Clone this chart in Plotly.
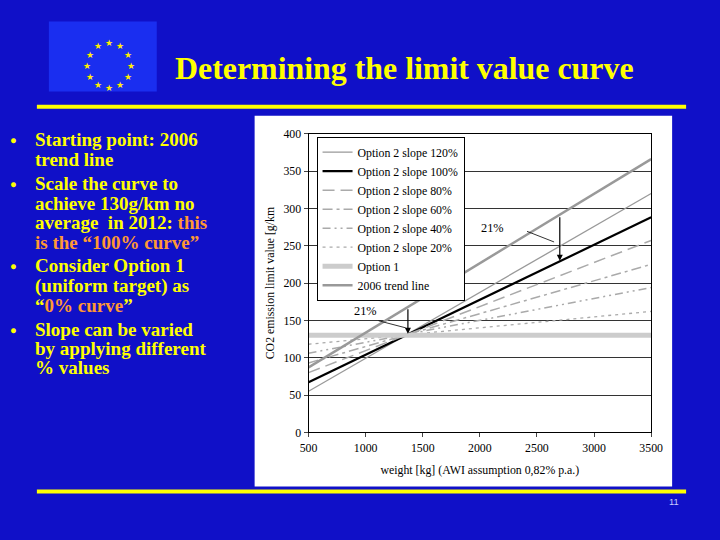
import math
import plotly.graph_objects as go

weights = [500, 3500]
trend_2006 = [87, 366]
slope_120 = [55, 320]
slope_100 = [67, 288]
slope_80 = [80, 257]
slope_60 = [93, 225]
slope_40 = [106, 194]
slope_20 = [118, 162]
option_1 = [130, 130]

W, H = 720, 540
S = 0.972  # compensate for the viewer's scaling
def px(x): return (360 + (x - 360) / S) / W
def py(y): return 1 - (270 + (y - 270) / S) / H
def fs(v): return v / S

fig = go.Figure()
series = [
    ("Option 2 slope 120%", slope_120, dict(color="#999999", width=1.3)),
    ("Option 2 slope 100%", slope_100, dict(color="black", width=2.2)),
    ("Option 2 slope 80%", slope_80, dict(color="#aaaaaa", width=1.5, dash="12px,6px")),
    ("Option 2 slope 60%", slope_60, dict(color="#aaaaaa", width=1.5, dash="10px,4px,3px,4px")),
    ("Option 2 slope 40%", slope_40, dict(color="#aaaaaa", width=1.5, dash="8px,4px,2px,4px,2px,4px")),
    ("Option 2 slope 20%", slope_20, dict(color="#aaaaaa", width=1.3, dash="3px,4px")),
    ("Option 1", option_1, dict(color="#cccccc", width=5)),
    ("2006 trend line", trend_2006, dict(color="#999999", width=2.5)),
]
for name, ys, ln in series:
    fig.add_trace(go.Scatter(x=weights, y=ys, name=name, mode="lines", line=ln))

serif = "Liberation Serif, Times New Roman, serif"
ann = []
ann.append(dict(x=1370, y=132, ax=1370, ay=167, xref="x", yref="y", axref="x", ayref="y",
                showarrow=True, arrowhead=2, arrowwidth=1.2, arrowcolor="black", text=""))
ann.append(dict(x=2700, y=230, ax=2700, ay=290, xref="x", yref="y", axref="x", ayref="y",
                showarrow=True, arrowhead=2, arrowwidth=1.2, arrowcolor="black", text=""))
ann.append(dict(x=1350, y=140, ax=1100, ay=150, xref="x", yref="y", axref="x", ayref="y",
                showarrow=True, arrowhead=0, arrowwidth=0.8, arrowcolor="black", text=""))
ann.append(dict(x=2650, y=255, ax=2400, ay=270, xref="x", yref="y", axref="x", ayref="y",
                showarrow=True, arrowhead=0, arrowwidth=0.8, arrowcolor="black", text=""))
ann.append(dict(x=1000, y=162, xref="x", yref="y", text="21%", showarrow=False,
                font=dict(family=serif, size=fs(12), color="black")))
ann.append(dict(x=2110, y=274, xref="x", yref="y", text="21%", showarrow=False,
                font=dict(family=serif, size=fs(12), color="black")))

ann.append(dict(x=px(406), y=py(69), xref="paper", yref="paper", text="<b>Determining the limit value curve</b>",
                showarrow=False, yanchor="middle", font=dict(family=serif, size=fs(31), color="#ffff00")))
for i in range(12):
    a = 2 * math.pi * i / 12
    ann.append(dict(x=px(104 + 22 * math.sin(a)), y=py(57 - 22 * math.cos(a)), xref="paper", yref="paper",
                    text="★", showarrow=False, font=dict(size=fs(9), color="#ffee00")))
Y = "#ffff00"; O = "#ff9933"
def o(t): return f"<span style='color:{O}'>{t}</span>"
bullet_lines = [
    [(140, "Starting point: 2006"), (160, "trend line")],
    [(184, "Scale the curve to"), (204, "achieve 130g/km no"), (223, "average  in 2012: " + o("this")),
     (243, o("is the “100% curve”"))],
    [(266, "Consider Option 1"), (286, "(uniform target) as"), (305, "“" + o("0% curve") + "”")],
    [(329, "Slope can be varied"), (348, "by applying different"), (367, "% values")],
]
for lines in bullet_lines:
    ann.append(dict(x=px(9), y=py(lines[0][0]), xref="paper", yref="paper", text="●", showarrow=False,
                    xanchor="left", yanchor="middle", font=dict(size=fs(11), color=Y)))
    for yy, t in lines:
        ann.append(dict(x=px(34), y=py(yy), xref="paper", yref="paper", text=f"<b>{t}</b>", showarrow=False,
                        xanchor="left", yanchor="middle", align="left",
                        font=dict(family=serif, size=fs(18.5), color=Y)))
ann.append(dict(x=px(683), y=py(508), xref="paper", yref="paper", text="11", showarrow=False,
                font=dict(family="Liberation Sans", size=fs(9), color="#ccccff")))

shapes = [
    dict(type="rect", xref="paper", yref="paper", x0=px(50), x1=px(158), y0=py(92), y1=py(22),
         fillcolor="#1a2ef0", line=dict(width=0), layer="below"),
    dict(type="line", xref="paper", yref="paper", x0=px(38), x1=px(688), y0=py(107), y1=py(107),
         line=dict(color="#ffff00", width=4)),
    dict(type="line", xref="paper", yref="paper", x0=px(38), x1=px(688), y0=py(491), y1=py(491),
         line=dict(color="#ffff00", width=4)),
    dict(type="rect", xref="paper", yref="paper", x0=px(256), x1=px(674), y0=py(486), y1=py(116),
         fillcolor="white", line=dict(width=0), layer="below"),
]

fig.update_layout(
    width=W, height=H, autosize=False, margin=dict(l=0, r=0, t=0, b=0),
    paper_bgcolor="#1010c8", plot_bgcolor="white",
    showlegend=True,
    legend=dict(x=px(318), y=py(137), xanchor="left", yanchor="top", bgcolor="white",
                bordercolor="black", borderwidth=1, font=dict(family=serif, size=fs(11.5), color="black"),
                tracegroupgap=0, itemwidth=30),
    xaxis=dict(domain=[px(310), px(653)], range=[500, 3500], tickvals=[500,1000,1500,2000,2500,3000,3500],
               showgrid=False, showline=True, linecolor="black", ticks="outside", ticklen=4, zeroline=False,
               mirror=True, tickfont=dict(family=serif, size=fs(11.5), color="black"),
               title=dict(text="weight [kg] (AWI assumption 0,82% p.a.)", font=dict(family=serif, size=fs(11.5), color="black"),
                          standoff=12)),
    yaxis=dict(domain=[py(432), py(134)], range=[0, 400], dtick=50, showgrid=True, gridcolor="#333333",
               gridwidth=1, showline=True, linecolor="black", mirror=True, ticks="outside", ticklen=4,
               zeroline=False, tickfont=dict(family=serif, size=fs(11.5), color="black"),
               title=dict(text="CO2 emission limit value [g/km", font=dict(family=serif, size=fs(11.5), color="black"),
                          standoff=6)),
    annotations=ann, shapes=shapes,
)
fig.write_html("out.html", config={"responsive": False, "displayModeBar": False},
               post_script="document.body.style.margin='0';document.body.style.overflow='hidden';"
                           "document.documentElement.style.overflow='hidden';")
